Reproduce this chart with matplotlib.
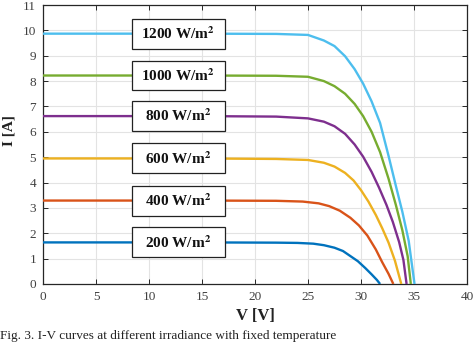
import matplotlib
matplotlib.use("Agg")
import matplotlib.pyplot as plt
from matplotlib.patches import Rectangle

# ---- data ----
irradiance_labels = ["200", "400", "600", "800", "1000", "1200"]

v_200 = [0, 15, 22, 24, 25.5, 26.5, 27.5, 28.3, 29.0, 29.7, 30.4, 31.0, 31.5, 31.8]
i_200 = [1.64, 1.64, 1.63, 1.62, 1.59, 1.53, 1.43, 1.30, 1.10, 0.90, 0.63, 0.38, 0.16, 0]

v_400 = [0, 15, 22, 24.5, 26, 27, 28, 29, 29.8, 30.6, 31.4, 32.0, 32.6, 33.05]
i_400 = [3.29, 3.29, 3.28, 3.25, 3.18, 3.07, 2.89, 2.61, 2.31, 1.91, 1.36, 0.86, 0.40, 0]

v_600 = [0, 15, 22, 25, 26.5, 27.5, 28.5, 29.3, 30.0, 30.7, 31.4, 32.0, 32.6, 33.2, 33.8]
i_600 = [4.95, 4.95, 4.93, 4.89, 4.78, 4.63, 4.38, 4.08, 3.70, 3.25, 2.72, 2.20, 1.63, 0.92, 0]

v_800 = [0, 15, 22, 25, 26.5, 27.5, 28.5, 29.4, 30.2, 31.0, 31.7, 32.4, 33.0, 33.6, 34.0, 34.3]
i_800 = [6.62, 6.62, 6.60, 6.53, 6.40, 6.22, 5.92, 5.50, 5.02, 4.42, 3.80, 3.12, 2.45, 1.65, 0.95, 0]

v_1000 = [0, 15, 22, 25, 26.5, 27.5, 28.5, 29.4, 30.2, 31.0, 31.8, 32.6, 33.3, 33.9, 34.4, 34.7]
i_1000 = [8.22, 8.22, 8.21, 8.17, 8.00, 7.80, 7.50, 7.10, 6.62, 6.00, 5.20, 4.15, 3.10, 2.12, 1.10, 0]

v_1200 = [0, 15, 22, 25, 26.5, 27.5, 28.5, 29.4, 30.2, 31.0, 31.8, 32.6, 33.3, 33.9, 34.5, 35.05]
i_1200 = [9.87, 9.87, 9.86, 9.82, 9.60, 9.38, 8.98, 8.47, 7.90, 7.20, 6.35, 5.05, 3.85, 2.85, 1.70, 0]

x_ticks = [0, 5, 10, 15, 20, 25, 30, 35, 40]
y_ticks = list(range(0, 12))

series = [
    (v_200, i_200, "#0072BD"),
    (v_400, i_400, "#D95319"),
    (v_600, i_600, "#EDB120"),
    (v_800, i_800, "#7E2F8E"),
    (v_1000, i_1000, "#77AC30"),
    (v_1200, i_1200, "#4DBEEE"),
]

plt.rcParams["font.family"] = ["Liberation Serif", "DejaVu Serif"]
plt.rcParams["mathtext.fontset"] = "stix"

fig = plt.figure(figsize=(4.74, 3.43), dpi=100)
ax = fig.add_axes([43 / 474, 1 - 284 / 343, 424 / 474, 279 / 343])

LABEL_V = 12.75
BOX_W = 8.8
BOX_H = 1.18

for (v, i, c), lab in zip(series, irradiance_labels):
    ax.plot(v, i, color=c, lw=1.7, solid_capstyle="butt", zorder=3)
    ax.add_patch(Rectangle((LABEL_V - BOX_W / 2, i[0] - BOX_H / 2), BOX_W, BOX_H,
                           facecolor="white", edgecolor="#222222", lw=0.9, zorder=4))
    ax.text(LABEL_V, i[0], lab + r" W/m$^{\mathbf{2}}$", ha="center", va="center",
            fontsize=11, fontweight="bold", color="#111111", zorder=5)

ax.set_xlim(0, 40)
ax.set_ylim(0, 11)
ax.set_xticks(x_ticks)
ax.set_yticks(y_ticks)
ax.grid(True, color="#e3e3e3", lw=0.8)
ax.set_axisbelow(True)
ax.tick_params(direction="in", top=True, right=True, length=3.5, width=0.7,
               colors="#262626", labelcolor="#404040", labelsize=9.5, pad=5)
for s in ax.spines.values():
    s.set_color("#262626")
    s.set_linewidth(0.9)

ax.set_xlabel("V [V]", fontsize=12, fontweight="bold", color="#222222", labelpad=4)
ax.set_ylabel("I [A]", fontsize=11, fontweight="bold", color="#222222")
ax.yaxis.set_label_coords(-0.064, 0.55)

fig.text(0.0, 1.0 / 343, "Fig. 3. I-V curves at different irradiance with fixed temperature",
         ha="left", va="bottom", fontsize=9.5, color="#222222")

fig.savefig("out.png", dpi=100)
